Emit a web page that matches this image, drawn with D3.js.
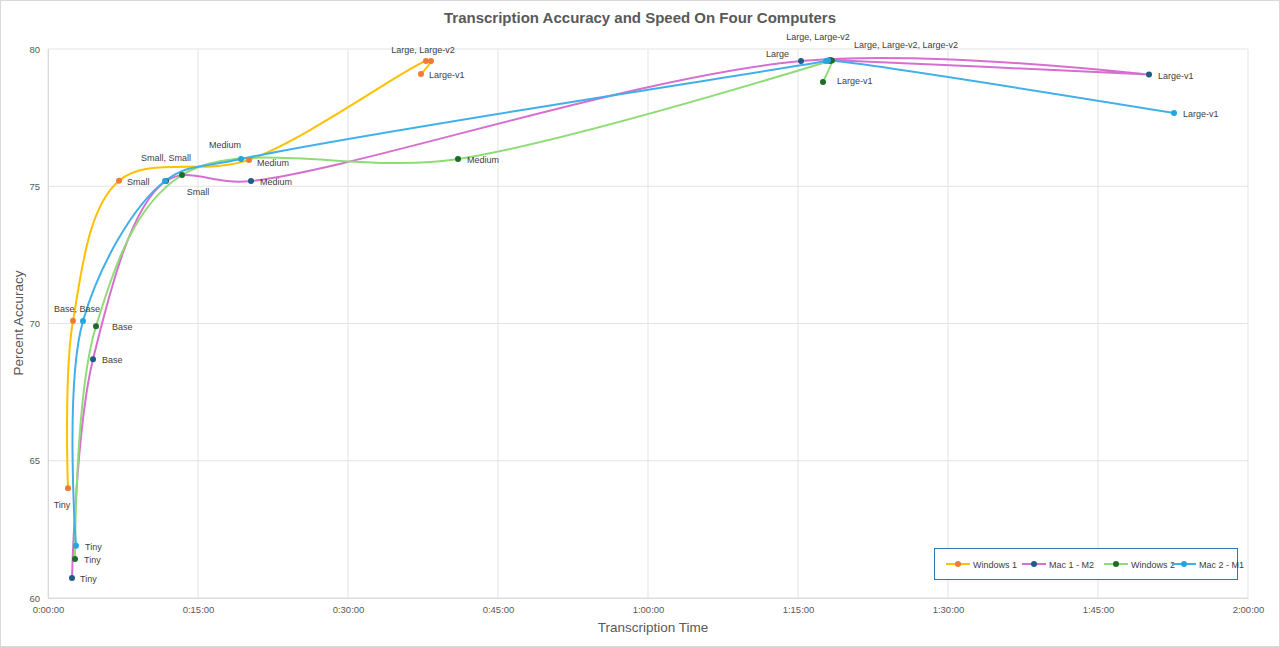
<!DOCTYPE html><html><head><meta charset="utf-8"><script src="https://cdn.jsdelivr.net/npm/d3@7"></script>
<style>body{margin:0;background:#fff}text{font-family:"Liberation Sans",Arial,sans-serif}</style></head><body><svg id="c" width="1280" height="647"></svg><script>
const seriesNames=["Windows 1","Mac 1 - M2","Windows 2","Mac 2 - M1"];
const lineColors=["#ffc000","#d76fd0","#8fdc76","#41b0e8"];
const markerColors=["#f07b39","#1e5c86","#1f6b2a","#22a6dc"];
// [model, seconds, accuracy]
const win1=[["Tiny",120,64.0],["Base",150,70.1],["Small",426,75.2],["Medium",1206,75.96],["Large",2268,79.56],["Large-v2",2298,79.56],["Large-v1",2238,79.09]];
const mac1=[["Tiny",144,60.73],["Base",270,68.7],["Small",708,75.19],["Medium",1218,75.19],["Large",4518,79.56],["Large-v1",6606,79.07],["Large-v2",4692,79.6]];
const win2=[["Tiny",162,61.42],["Base",288,69.9],["Small",804,75.41],["Medium",2460,75.99],["Large",4692,79.56],["Large-v2",4704,79.58],["Large-v1",4650,78.8]];
const mac2=[["Tiny",168,61.9],["Base",210,70.09],["Small",702,75.19],["Medium",1158,75.99],["Large",4668,79.56],["Large-v2",4680,79.58],["Large-v1",6756,77.67]];
const allSeries=[win1,mac1,win2,mac2];
const xTicks=[0,900,1800,2700,3600,4500,5400,6300,7200];
const yTicks=[60,65,70,75,80];
// labels: [text, seriesIndex, pointIndex, dx, dy, anchor]
const labels=[["Tiny",0,0,-6,20,"middle"],["Base, Base",0,1,4,-9,"middle"],["Small",0,2,8,4,"start"],["Large, Large-v2",0,4,-3,-8,"middle"],["Large-v1",0,6,8,4,"start"],
["Tiny",1,0,8,4,"start"],["Base",1,1,9,4,"start"],["Medium",1,3,9,4,"start"],["Large",1,4,-12,-4,"end"],["Large-v1",1,5,9,4,"start"],
["Tiny",2,0,9,4,"start"],["Base",2,1,16,4,"start"],["Small",2,2,16,20,"middle"],["Medium",2,3,9,4,"start"],["Large-v1",2,6,14,2,"start"],["Large, Large-v2, Large-v2",2,5,22,-13,"start"],
["Tiny",3,0,9,4,"start"],["Small, Small",3,2,1,-20,"middle"],["Medium",3,3,-16,-11,"middle"],["Medium",0,3,8,6,"start"],["Large, Large-v2",3,4,-8,-21,"middle"],["Large-v1",3,6,9,4,"start"]];
const svg=d3.select("#c");
const x=d3.scaleLinear().domain([0,7200]).range([48,1248]);
const y=d3.scaleLinear().domain([60,80]).range([598,49]);
const fmt=s=>{const h=Math.floor(s/3600),m=Math.floor(s%3600/60),ss=s%60;return h+":"+String(m).padStart(2,"0")+":"+String(ss).padStart(2,"0");};
svg.append("rect").attr("x",0.5).attr("y",0.5).attr("width",1279).attr("height",646).attr("fill","none").attr("stroke","#d9d9d9");
svg.append("g").selectAll("line").data(xTicks).join("line").attr("x1",d=>x(d)).attr("x2",d=>x(d)).attr("y1",49).attr("y2",598).attr("stroke","#e3e3e3");
svg.append("g").selectAll("line").data(yTicks).join("line").attr("y1",d=>y(d)).attr("y2",d=>y(d)).attr("x1",48).attr("x2",1248).attr("stroke","#e3e3e3");
svg.append("g").attr("transform","translate(0,598)").call(d3.axisBottom(x).tickValues(xTicks).tickFormat(fmt).tickSize(0).tickPadding(8)).call(g=>{g.select(".domain").attr("stroke","#d9d9d9");g.selectAll("text").attr("fill","#595959").attr("font-size",9.5)});
svg.append("g").attr("transform","translate(48,0)").call(d3.axisLeft(y).tickValues(yTicks).tickSize(0).tickPadding(8)).call(g=>{g.select(".domain").attr("stroke","#d9d9d9");g.selectAll("text").attr("fill","#595959").attr("font-size",9.5)});
svg.append("text").attr("x",640).attr("y",23).attr("text-anchor","middle").attr("font-size",15).attr("font-weight","bold").attr("fill","#595959").text("Transcription Accuracy and Speed On Four Computers");
svg.append("text").attr("x",653).attr("y",632).attr("text-anchor","middle").attr("font-size",13.5).attr("fill","#595959").text("Transcription Time");
svg.append("text").attr("transform","translate(23,323) rotate(-90)").attr("text-anchor","middle").attr("font-size",13.5).attr("fill","#595959").text("Percent Accuracy");
const line=d3.line().x(d=>x(d[1])).y(d=>y(d[2])).curve(d3.curveCatmullRom.alpha(0.5));
allSeries.forEach((s,i)=>svg.append("path").attr("d",line(s)).attr("fill","none").attr("stroke",lineColors[i]).attr("stroke-width",2));
allSeries.forEach((s,i)=>svg.append("g").selectAll("circle").data(s).join("circle").attr("cx",d=>x(d[1])).attr("cy",d=>y(d[2])).attr("r",3).attr("fill",markerColors[i]));
svg.append("g").selectAll("text").data(labels).join("text").attr("x",d=>x(allSeries[d[1]][d[2]][1])+d[3]).attr("y",d=>y(allSeries[d[1]][d[2]][2])+d[4]).attr("text-anchor",d=>d[5]).attr("font-size",9).attr("fill","#404040").text(d=>d[0]);
const lg=svg.append("g");
lg.append("rect").attr("x",934.5).attr("y",548.5).attr("width",303).attr("height",31).attr("fill","#fff").attr("stroke","#2e75b6");
const lx=[946,1022,1104,1172];
seriesNames.forEach((n,i)=>{const g=lg.append("g").attr("transform",`translate(${lx[i]},564)`);
g.append("line").attr("x1",0).attr("x2",24).attr("stroke",lineColors[i]).attr("stroke-width",2);
g.append("circle").attr("cx",12).attr("r",3).attr("fill",markerColors[i]);
g.append("text").attr("x",27).attr("y",3.5).attr("font-size",9).attr("fill","#404040").text(n);});
</script></body></html>
